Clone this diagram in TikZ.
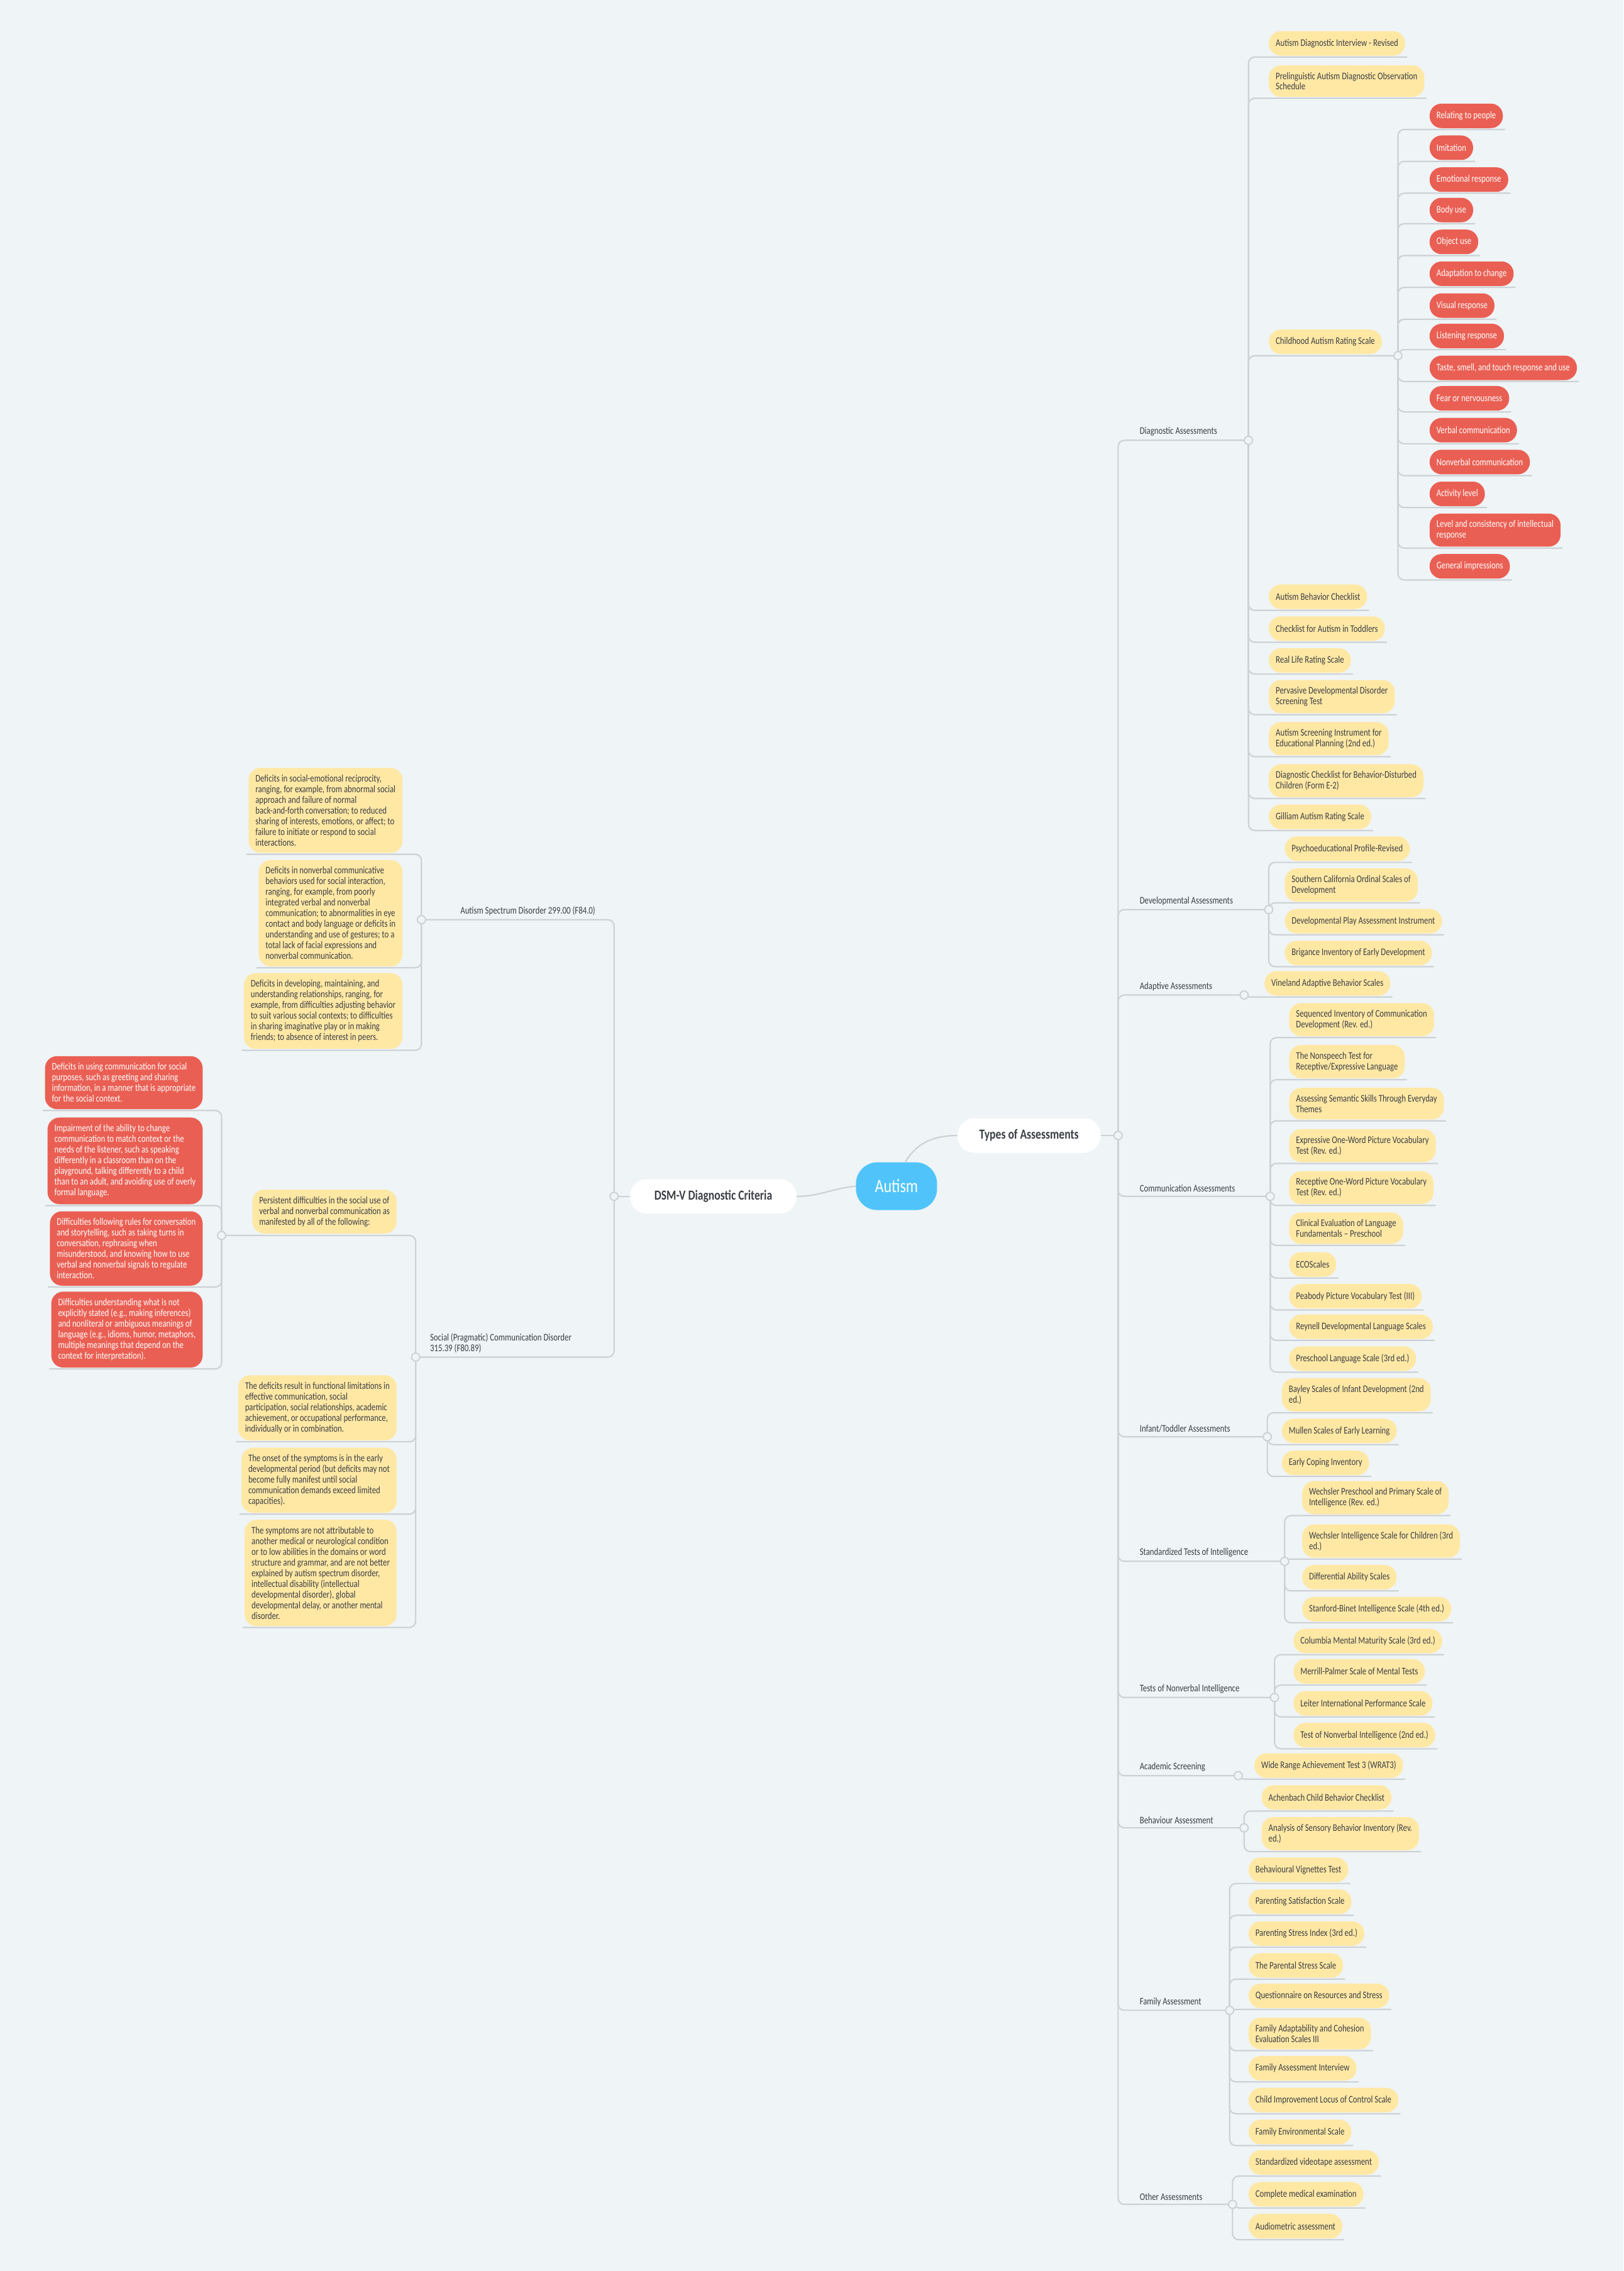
\documentclass[tikz,border=0pt]{standalone}
\usepackage{fontspec}
\setmainfont[FakeStretch=0.8]{Carlito}
\usetikzlibrary{calc}
\definecolor{bg}{HTML}{EFF4F7}
\definecolor{yel}{HTML}{FFE8A4}
\definecolor{redc}{HTML}{EA5F53}
\definecolor{bluec}{HTML}{50C4FA}
\definecolor{linec}{HTML}{CDD2D6}
\definecolor{txt}{HTML}{3B3F45}
\newcommand\sm{\fontsize{16}{17}\selectfont}
\newcommand\rch[2]{\draw[conn] (#1) |- ([yshift=-2pt]#2.south west) -- ([yshift=-2pt,xshift=3pt]#2.south east);}
\newcommand\lch[2]{\draw[conn] (#1) |- ([yshift=-2pt]#2.south east) -- ([yshift=-2pt,xshift=-3pt]#2.south west);}
\tikzset{
 yn/.style={fill=yel, text=txt, rounded corners=19pt, inner xsep=11pt, inner ysep=11pt, minimum height=39pt, align=left, font=\sm, anchor=west},
 rn/.style={yn, fill=redc, text=white},
 lyn/.style={yn, anchor=east},
 lrn/.style={rn, anchor=east},
 ln/.style={text=txt, font=\sm, inner sep=2pt, align=left},
 conn/.style={draw=linec, line width=2.2pt, rounded corners=10pt},
 jn/.style={circle, draw=linec, fill=bg, line width=2pt, minimum size=13pt, inner sep=0pt}
}
\begin{document}
\begin{tikzpicture}[x=2.304pt,y=-2.304pt]
\fill[bg] (0,0) rectangle (1121,1568);
\useasboundingbox (0,0) rectangle (1121,1568);
% main nodes
\node[fill=bluec, text=white, rounded corners=34pt, minimum width=129pt, minimum height=76pt, font=\fontsize{30}{32}\selectfont] (autism) at (619,819) {Autism};
\node[fill=white, text=txt, rounded corners=27pt, minimum width=228pt, minimum height=55pt, font=\fontsize{22}{24}\selectfont\bfseries] (types) at (710.5,784) {Types of Assessments};
\node[fill=white, text=txt, rounded corners=27pt, minimum width=265pt, minimum height=55pt, font=\fontsize{22}{24}\selectfont\bfseries] (dsm) at (492.5,826) {DSM-V Diagnostic Criteria};
% junction coordinates
\coordinate (jT) at (772,784);
\coordinate (jDiag) at (862,304);
\coordinate (jDev) at (876,628);
\coordinate (jAdapt) at (859,687);
\coordinate (jComm) at (877,826);
\coordinate (jInf) at (875,992);
\coordinate (jStd) at (887,1078);
\coordinate (jNonv) at (880,1172);
\coordinate (jAcad) at (855,1226);
\coordinate (jBeh) at (859,1262);
\coordinate (jFam) at (849,1388);
\coordinate (jOther) at (851,1522);
\coordinate (jDSM) at (424,826);
\coordinate (jASD) at (291,635);
\coordinate (jSP) at (287,937);
\coordinate (jPer) at (153,853);
% level-2 labels
\node[ln,anchor=south west] (lDiag) at (786,302) {Diagnostic Assessments};
\node[ln,anchor=south west] (lDev) at (786,626) {Developmental Assessments};
\node[ln,anchor=south west] (lAdapt) at (786,685) {Adaptive Assessments};
\node[ln,anchor=south west] (lComm) at (786,824) {Communication Assessments};
\node[ln,anchor=south west] (lInf) at (786,990) {Infant/Toddler Assessments};
\node[ln,anchor=south west] (lStd) at (786,1076) {Standardized Tests of Intelligence};
\node[ln,anchor=south west] (lNonv) at (786,1170) {Tests of Nonverbal Intelligence};
\node[ln,anchor=south west] (lAcad) at (786,1224) {Academic Screening};
\node[ln,anchor=south west] (lBeh) at (786,1260) {Behaviour Assessment};
\node[ln,anchor=south west] (lFam) at (786,1386) {Family Assessment};
\node[ln,anchor=south west] (lOther) at (786,1520) {Other Assessments};
\node[ln,anchor=south east] (lASD) at (412,633) {Autism Spectrum Disorder 299.00 (F84.0)};
\node[ln,anchor=south west] (lSP) at (296,935) {Social (Pragmatic) Communication Disorder\\315.39 (F80.89)};
% Diagnostic
\node[yn] (d1) at (876,30) {Autism Diagnostic Interview - Revised};
\node[yn] (d2) at (876,56) {Prelinguistic Autism Diagnostic Observation\\Schedule};
\node[yn] (cars) at (876,236) {Childhood Autism Rating Scale};
\node[yn] (d4) at (876,412) {Autism Behavior Checklist};
\node[yn] (d5) at (876,434) {Checklist for Autism in Toddlers};
\node[yn] (d6) at (876,456) {Real Life Rating Scale};
\node[yn] (d7) at (876,481) {Pervasive Developmental Disorder\\Screening Test};
\node[yn] (d8) at (876,510) {Autism Screening Instrument for\\Educational Planning (2nd ed.)};
\node[yn] (d9) at (876,539) {Diagnostic Checklist for Behavior-Disturbed\\Children (Form E-2)};
\node[yn] (d10) at (876,564) {Gilliam Autism Rating Scale};
\coordinate (jCARS) at ($(cars.south east)+(11,1)$);
% CARS children
\node[rn] (c1) at (987,80) {Relating to people};
\node[rn] (c2) at (987,102) {Imitation};
\node[rn] (c3) at (987,124) {Emotional response};
\node[rn] (c4) at (987,145) {Body use};
\node[rn] (c5) at (987,167) {Object use};
\node[rn] (c6) at (987,189) {Adaptation to change};
\node[rn] (c7) at (987,211) {Visual response};
\node[rn] (c8) at (987,232) {Listening response};
\node[rn] (c9) at (987,254) {Taste, smell, and touch response and use};
\node[rn] (c10) at (987,275) {Fear or nervousness};
\node[rn] (c11) at (987,297) {Verbal communication};
\node[rn] (c12) at (987,319) {Nonverbal communication};
\node[rn] (c13) at (987,341) {Activity level};
\node[rn] (c14) at (987,366) {Level and consistency of intellectual\\response};
\node[rn] (c15) at (987,391) {General impressions};
% Developmental
\node[yn] (v1) at (887,586) {Psychoeducational Profile-Revised};
\node[yn] (v2) at (887,611) {Southern California Ordinal Scales of\\Development};
\node[yn] (v3) at (887,636) {Developmental Play Assessment Instrument};
\node[yn] (v4) at (887,658) {Brigance Inventory of Early Development};
% Adaptive
\node[yn] (a1) at (873,679) {Vineland Adaptive Behavior Scales};
% Communication
\node[yn] (m1) at (890,704) {Sequenced Inventory of Communication\\Development (Rev. ed.)};
\node[yn] (m2) at (890,733) {The Nonspeech Test for\\Receptive/Expressive Language};
\node[yn] (m3) at (890,762) {Assessing Semantic Skills Through Everyday\\Themes};
\node[yn] (m4) at (890,791) {Expressive One-Word Picture Vocabulary\\Test (Rev. ed.)};
\node[yn] (m5) at (890,820) {Receptive One-Word Picture Vocabulary\\Test (Rev. ed.)};
\node[yn] (m6) at (890,848) {Clinical Evaluation of Language\\Fundamentals – Preschool};
\node[yn] (m7) at (890,873) {ECOScales};
\node[yn] (m8) at (890,895) {Peabody Picture Vocabulary Test (III)};
\node[yn] (m9) at (890,916) {Reynell Developmental Language Scales};
\node[yn] (m10) at (890,938) {Preschool Language Scale (3rd ed.)};
% Infant
\node[yn] (i1) at (885,963) {Bayley Scales of Infant Development (2nd\\ed.)};
\node[yn] (i2) at (885,988) {Mullen Scales of Early Learning};
\node[yn] (i3) at (885,1010) {Early Coping Inventory};
% Standardized
\node[yn] (s1) at (899,1034) {Wechsler Preschool and Primary Scale of\\Intelligence (Rev. ed.)};
\node[yn] (s2) at (899,1064) {Wechsler Intelligence Scale for Children (3rd\\ed.)};
\node[yn] (s3) at (899,1089) {Differential Ability Scales};
\node[yn] (s4) at (899,1111) {Stanford-Binet Intelligence Scale (4th ed.)};
% Nonverbal
\node[yn] (n1) at (893,1133) {Columbia Mental Maturity Scale (3rd ed.)};
\node[yn] (n2) at (893,1154) {Merrill-Palmer Scale of Mental Tests};
\node[yn] (n3) at (893,1176) {Leiter International Performance Scale};
\node[yn] (n4) at (893,1198) {Test of Nonverbal Intelligence (2nd ed.)};
% Academic
\node[yn] (ac1) at (866,1219) {Wide Range Achievement Test 3 (WRAT3)};
% Behaviour
\node[yn] (b1) at (871,1241) {Achenbach Child Behavior Checklist};
\node[yn] (b2) at (871,1266) {Analysis of Sensory Behavior Inventory (Rev.\\ed.)};
% Family
\node[yn] (f1) at (862,1291) {Behavioural Vignettes Test};
\node[yn] (f2) at (862,1313) {Parenting Satisfaction Scale};
\node[yn] (f3) at (862,1335) {Parenting Stress Index (3rd ed.)};
\node[yn] (f4) at (862,1357) {The Parental Stress Scale};
\node[yn] (f5) at (862,1378) {Questionnaire on Resources and Stress};
\node[yn] (f6) at (862,1404) {Family Adaptability and Cohesion\\Evaluation Scales III};
\node[yn] (f7) at (862,1428) {Family Assessment Interview};
\node[yn] (f8) at (862,1450) {Child Improvement Locus of Control Scale};
\node[yn] (f9) at (862,1472) {Family Environmental Scale};
% Other
\node[yn] (o1) at (862,1493) {Standardized videotape assessment};
\node[yn] (o2) at (862,1515) {Complete medical examination};
\node[yn] (o3) at (862,1537) {Audiometric assessment};
% ASD children
\node[lyn] (asd1) at (278,559.5) {Deficits in social-emotional reciprocity,\\ranging, for example, from abnormal social\\approach and failure of normal\\back-and-forth conversation; to reduced\\sharing of interests, emotions, or affect; to\\failure to initiate or respond to social\\interactions.};
\node[lyn] (asd2) at (278,630.5) {Deficits in nonverbal communicative\\behaviors used for social interaction,\\ranging, for example, from poorly\\integrated verbal and nonverbal\\communication; to abnormalities in eye\\contact and body language or deficits in\\understanding and use of gestures; to a\\total lack of facial expressions and\\nonverbal communication.};
\node[lyn] (asd3) at (278,698) {Deficits in developing, maintaining, and\\understanding relationships, ranging, for\\example, from difficulties adjusting behavior\\to suit various social contexts; to difficulties\\in sharing imaginative play or in making\\friends; to absence of interest in peers.};
% SPCD children
\node[lyn] (per) at (274,836.5) {Persistent difficulties in the social use of\\verbal and nonverbal communication as\\manifested by all of the following:};
\node[lyn] (sp1) at (274,972) {The deficits result in functional limitations in\\effective communication, social\\participation, social relationships, academic\\achievement, or occupational performance,\\individually or in combination.};
\node[lyn] (sp2) at (274,1022) {The onset of the symptoms is in the early\\developmental period (but deficits may not\\become fully manifest until social\\communication demands exceed limited\\capacities).};
\node[lyn] (sp3) at (274,1086) {The symptoms are not attributable to\\another medical or neurological condition\\or to low abilities in the domains or word\\structure and grammar, and are not better\\explained by autism spectrum disorder,\\intellectual disability (intellectual\\developmental disorder), global\\developmental delay, or another mental\\disorder.};
\node[lrn] (r1) at (140,747.5) {Deficits in using communication for social\\purposes, such as greeting and sharing\\information, in a manner that is appropriate\\for the social context.};
\node[lrn] (r2) at (140,801.5) {Impairment of the ability to change\\communication to match context or the\\needs of the listener, such as speaking\\differently in a classroom than on the\\playground, talking differently to a child\\than to an adult, and avoiding use of overly\\formal language.};
\node[lrn] (r3) at (140,862) {Difficulties following rules for conversation\\and storytelling, such as taking turns in\\conversation, rephrasing when\\misunderstood, and knowing how to use\\verbal and nonverbal signals to regulate\\interaction.};
\node[lrn] (r4) at (140,918) {Difficulties understanding what is not\\explicitly stated (e.g., making inferences)\\and nonliteral or ambiguous meanings of\\language (e.g., idioms, humor, metaphors,\\multiple meanings that depend on the\\context for interpretation).};
% connectors
\draw[conn] (autism.70) to[out=60,in=180] (types.west);
\draw[conn] (autism.west) to[out=185,in=0] (dsm.east);
\draw[conn] (types.east) -- (jT);
\draw[conn] (dsm.west) -- (jDSM);
\foreach \j in {jDiag,jDev,jAdapt,jComm,jInf,jStd,jNonv,jAcad,jBeh,jFam,jOther} {\draw[conn] (jT) |- (\j);}
\draw[conn] (jDSM) |- (jASD);
\draw[conn] (jDSM) |- (jSP);
\foreach \n in {d1,d2,d4,d5,d6,d7,d8,d9,d10} {\rch{jDiag}{\n}}
\draw[conn] (jDiag) |- (jCARS);
\foreach \n in {c1,c2,c3,c4,c5,c6,c7,c8,c9,c10,c11,c12,c13,c14,c15} {\rch{jCARS}{\n}}
\foreach \n in {v1,v2,v3,v4} {\rch{jDev}{\n}}
\rch{jAdapt}{a1}
\foreach \n in {m1,m2,m3,m4,m5,m6,m7,m8,m9,m10} {\rch{jComm}{\n}}
\foreach \n in {i1,i2,i3} {\rch{jInf}{\n}}
\foreach \n in {s1,s2,s3,s4} {\rch{jStd}{\n}}
\foreach \n in {n1,n2,n3,n4} {\rch{jNonv}{\n}}
\rch{jAcad}{ac1}
\foreach \n in {b1,b2} {\rch{jBeh}{\n}}
\foreach \n in {f1,f2,f3,f4,f5,f6,f7,f8,f9} {\rch{jFam}{\n}}
\foreach \n in {o1,o2,o3} {\rch{jOther}{\n}}
\foreach \n in {asd1,asd2,asd3} {\lch{jASD}{\n}}
\draw[conn] (jSP) |- (jPer);
\foreach \n in {sp1,sp2,sp3} {\lch{jSP}{\n}}
\foreach \n in {r1,r2,r3,r4} {\lch{jPer}{\n}}
% junction circles
\foreach \j in {jT,jDiag,jDev,jAdapt,jComm,jInf,jStd,jNonv,jAcad,jBeh,jFam,jOther,jDSM,jASD,jSP,jPer,jCARS} {\node[jn] (c\j) at (\j) {};}
\end{tikzpicture}
\end{document}
